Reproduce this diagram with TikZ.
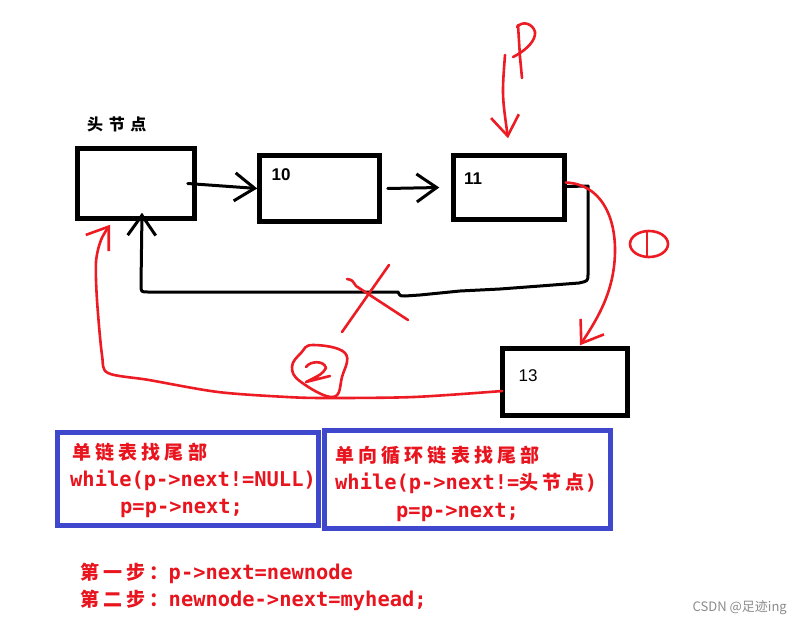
\documentclass[tikz,border=0pt]{standalone}
\usepackage{fontspec}
\usetikzlibrary{arrows.meta,calc}
\newfontfamily\cjkA{Noto Sans CJK SC}[LetterSpace=22]
\newfontfamily\cjkB{Noto Sans CJK SC}[LetterSpace=35]
\newfontfamily\cjkW{Noto Sans CJK SC}
\newfontfamily\monof{DejaVu Sans Mono}
\newfontfamily\arialf{Liberation Sans}
\definecolor{pRed}{HTML}{ED1C24}
\definecolor{tRed}{HTML}{E8141E}
\definecolor{pBlue}{HTML}{3F48CC}
\newcommand\zhR[1]{{\cjkA\bfseries\fontsize{19}{19}\selectfont #1}}
\newcommand\moR[1]{{\monof\bfseries\fontsize{20.4}{20.4}\selectfont #1}}
\tikzset{
  box/.style={draw=black, line width=4.5pt, inner sep=0pt},
  bluebox/.style={draw=pBlue, line width=5pt, inner sep=0pt},
  blk/.style={draw=black, line width=3pt, line cap=round, line join=round},
  rd/.style={draw=pRed, line width=2.6pt, line cap=round, line join=round},
  chev/.style={-{Straight Barb[length=20pt,width=28pt]}},
  txt/.style={inner sep=0pt, anchor=west, text=tRed},
  num/.style={inner sep=0pt, font=\arialf\fontsize{17}{17}\selectfont}
}
\begin{document}
\begin{tikzpicture}[x=1pt,y=-1pt]
\useasboundingbox[fill=white] (0,0) rectangle (803,626);

% list boxes
\node[box, minimum width=117pt, minimum height=70pt] (head) at (136,183.5) {};
\node[box, minimum width=120pt, minimum height=66pt] (n10) at (319.5,188.5) {};
\node[box, minimum width=111pt, minimum height=64pt] (n11) at (509,187.5) {};
\node[box, minimum width=125pt, minimum height=67pt] (n13) at (565,382) {};

\node[inner sep=0pt, anchor=west] (hl) at (87,124) {\cjkB\bfseries\fontsize{16}{16}\selectfont 头节点};
\node[num, font=\arialf\bfseries\fontsize{17}{17}\selectfont] (t10) at (281,175) {10};
\node[num, font=\arialf\bfseries\fontsize{17}{17}\selectfont] (t11) at (473,179) {11};
\node[num] (t13) at (528,376) {13};

% black arrows
\draw[blk, chev] ([xshift=-9pt]head.east) -- (n10.west);
\draw[blk, chev] ([xshift=6pt]n10.east) -- ([xshift=-12pt]n11.west);
\coordinate (hb) at ($(head.south)+(6,-8)$);
\draw[blk, chev] ($(n11.east)+(0,-1)$) -- (588,186) -- (588,274)
   .. controls (588,281) .. (579,283) -- (540,286) -- (500,289) -- (460,291)
   -- (420,295) -- (405,296) .. controls (400,296) .. (398,292) -- (148,292)
   .. controls (141,292) .. (141,285) -- (hb);

% red P arrow
\coordinate (ptop) at (505,55);
\draw[rd, chev] (ptop) .. controls (502,95) .. ($(n11.north)+(-1,-15)$);
\draw[rd] (518,25) -- (520,57) -- (522,78);
\draw[rd] (517,27) .. controls (523,20) and (533,24) .. (535,32)
   .. controls (536,40) and (527,50) .. (513,57);

% red step 1
\coordinate (c13) at ($(n13.north)+(15,-1)$);
\draw[rd, chev] ($(n11.east)+(-1,-5)$) .. controls (600,184) and (615,215) .. (615,250)
   .. controls (615,290) and (598,318) .. (c13);
\draw[rd] (649,244) ellipse [x radius=19, y radius=13];
\draw[rd] (647,231) -- (647,257);

% red X
\draw[rd] (389,265) -- (342,332);
\draw[rd] (347,279) .. controls (352,280) .. (356,286) -- (408,320);

% red step 2
\coordinate (h2) at ($(head.south)+(-26,4)$);
\draw[rd, chev] plot[smooth, tension=0.5] coordinates {($(n13.west)+(2,9)$) (414,397) (328,398) (287,397) (218,392) (149,380) (108,373) (102,355) (97,300) (96,262) (101,240) (h2)};
\draw[rd] plot[smooth cycle, tension=0.7] coordinates {(313,345) (345,353) (342,377) (333,397) (301,382) (292,367) (301,353)};
\draw[rd] (306,367) .. controls (310,361) and (324,360) .. (326,368) .. controls (322,374) .. (306,382) -- (330,376);

% blue boxes
\node[bluebox, minimum width=261pt, minimum height=93pt] (b1) at (188,479) {};
\node[bluebox, minimum width=286pt, minimum height=98pt] (b2) at (467.5,479.5) {};

\node[txt] (l1) at (72,452) {\zhR{单链表找尾部}};
\node[txt] (l2) at (70,480) {\moR{while(p->next!=NULL)}};
\node[txt] (l3) at (120,508) {\moR{p=p->next;}};
\node[txt] (r1) at (335,455) {\zhR{单向循环链表找尾部}};
\node[txt] (r2) at (335,483) {\moR{while(p->next!=}\zhR{头节点}\moR{)}};
\node[txt] (r3) at (396,512) {\moR{p=p->next;}};
\node[txt] (s1) at (80,573) {\zhR{第一步：}\moR{p->next=newnode}};
\node[txt] (s2) at (80,600) {\zhR{第二步：}\moR{newnode->next=myhead;}};

\node[inner sep=0pt, anchor=east, text=black!45] (wm) at (787,608) {\cjkW\fontsize{13}{13}\selectfont CSDN @足迹ing};
\end{tikzpicture}
\end{document}
